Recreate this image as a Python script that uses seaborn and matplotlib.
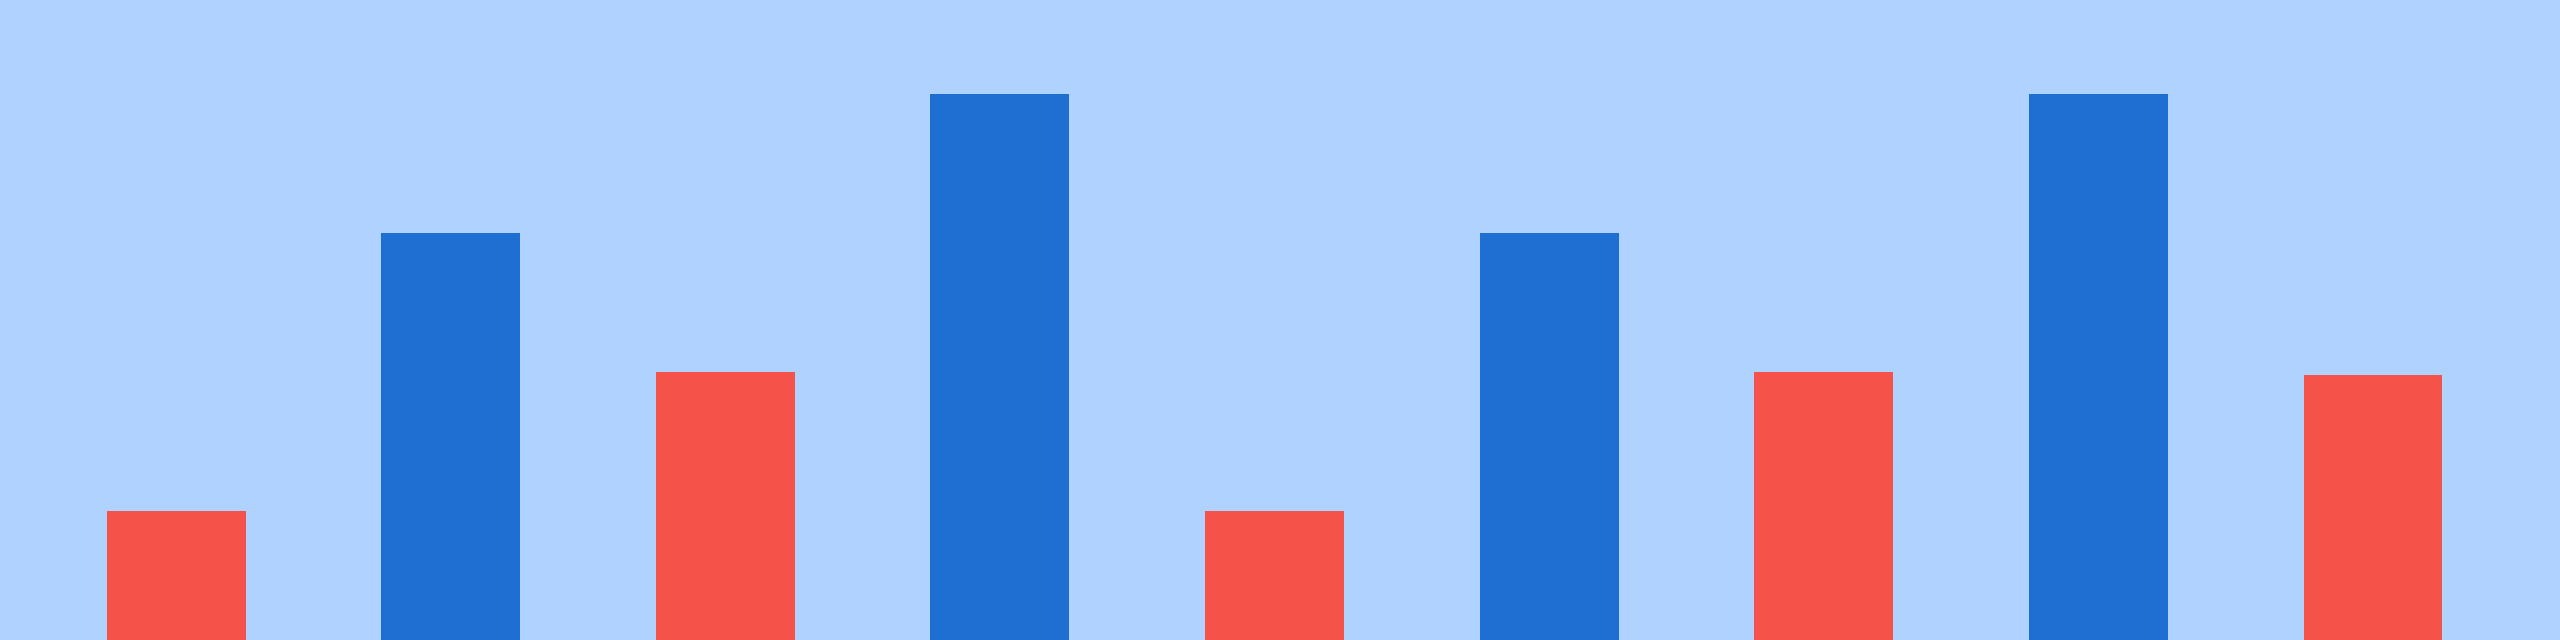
#!/usr/bin/env python3
import matplotlib as mpl
import matplotlib.pyplot as plt
import pandas as pd
import seaborn as sns

mpl.use("Agg")

BACKGROUND = "#b0d2ff"
RED = "#f5524a"
BLUE = "#1e6fd1"

# bar values, left to right
categories = ["a", "b", "c", "d", "e", "f", "g", "h", "i"]
values = [1.0, 3.0, 2.0, 4.0, 1.0, 3.0, 2.0, 4.0, 1.98]
groups = ["red", "blue", "red", "blue", "red", "blue", "red", "blue", "red"]


def start() -> None:
    df = pd.DataFrame({"cat": categories, "value": values, "group": groups})

    fig = plt.figure(figsize=(25.6, 6.4), dpi=100)
    fig.patch.set_facecolor(BACKGROUND)
    ax = fig.add_axes([0, 0, 1, 1])
    ax.set_facecolor(BACKGROUND)

    sns.barplot(
        ax=ax,
        data=df,
        x="cat",
        y="value",
        hue="group",
        palette={"red": RED, "blue": BLUE},
        order=categories,
        dodge=False,
        width=0.506,
        saturation=1,
        linewidth=0,
        errorbar=None,
        legend=False,
    )
    # no axes, the bars fill the whole canvas
    ax.set_xlim(-0.641, 8.681)
    ax.set_ylim(0.07, 4.68)
    ax.set_axis_off()

    fig.savefig("out.png", dpi=100, facecolor=BACKGROUND)


if __name__ == "__main__":
    start()
